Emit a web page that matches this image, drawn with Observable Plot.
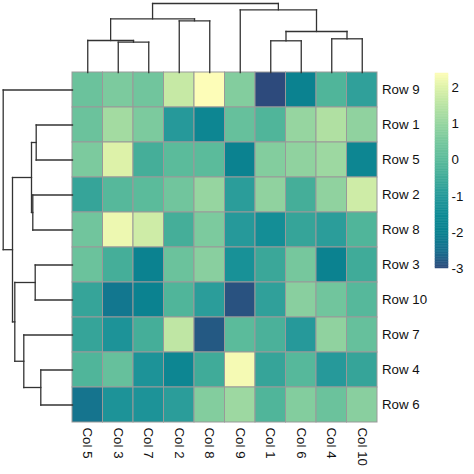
<!DOCTYPE html>
<html>
<head>
<meta charset="utf-8">
<script src="https://cdn.jsdelivr.net/npm/d3@7"></script>
<script src="https://cdn.jsdelivr.net/npm/@observablehq/plot@0.6"></script>
<style>
  html, body { margin: 0; padding: 0; background: #fff; }
  #wrap { position: relative; width: 474px; height: 474px; font-family: "Liberation Sans", Arial, sans-serif; }
  #wrap svg { position: absolute; overflow: visible; }
</style>
</head>
<body>
<div id="wrap"></div>
<script>
// ---- data (display order, as clustered) ----
const colNames = ["Col 5","Col 3","Col 7","Col 2","Col 8","Col 9","Col 1","Col 6","Col 4","Col 10"];
const rowNames = ["Row 9","Row 1","Row 5","Row 2","Row 8","Row 3","Row 10","Row 7","Row 4","Row 6"];
const row9  = [ 0.3,  0.6,  0.4,  1.7,  2.4,  0.7, -3.0, -2.0, -0.2, -0.8];
const row1  = [ 0.3,  1.2,  0.6, -1.0, -1.8,  0.2, -0.2,  1.0,  1.4,  0.9];
const row5  = [ 0.6,  2.0, -0.4,  0.0,  0.0, -2.0,  0.7,  0.9,  1.1, -1.8];
const row2  = [-0.7, -0.1,  0.0,  0.4,  1.0, -0.9,  0.9, -0.4,  0.9,  1.8];
const row8  = [ 0.4,  2.2,  1.8, -0.4,  0.6, -1.0, -1.4, -0.7, -0.9, -0.2];
const row3  = [ 0.3, -0.4, -2.0,  0.3,  0.8, -1.3, -0.6,  0.5, -2.0, -0.5];
const row10 = [-0.7, -2.3, -2.0, -0.2, -0.9, -2.9, -0.8,  0.8,  0.4, -0.1];
const row7  = [-0.7, -1.2, -0.4,  1.6, -2.8,  0.0, -0.3, -1.0,  0.9,  0.2];
const row4  = [-0.2,  0.2, -1.2, -1.8, -0.5,  2.3, -0.7, -0.1, -1.0, -0.7];
const row6  = [-2.4, -1.2, -1.2, -0.9,  0.7,  1.1, -0.2,  0.7,  0.3,  0.8];
const rowValues = [row9, row1, row5, row2, row8, row3, row10, row7, row4, row6];

// hclust-like merges: [left, right, height]; numbers refer to earlier merges
const colMerges = [
  ["Col 3", "Col 7", 3.03],
  ["Col 5", 0, 3.20],
  ["Col 2", "Col 8", 5.17],
  [1, 2, 5.37],
  ["Col 1", "Col 6", 3.17],
  ["Col 4", "Col 10", 3.37],
  [4, 5, 4.10],
  ["Col 9", 6, 6.27],
  [3, 7, 6.90]
];
const rowMerges = [
  ["Row 1", "Row 5", 3.63],
  ["Row 2", "Row 8", 3.97],
  [0, 1, 4.10],
  ["Row 3", "Row 10", 3.73],
  ["Row 4", "Row 6", 3.17],
  ["Row 7", 4, 4.87],
  [3, 5, 5.77],
  [2, 6, 6.00],
  ["Row 9", 7, 6.93]
];
const legendTicks = [-3, -2, -1, 0, 1, 2];

// ---- palette ----
const paletteStops = [-3, -2.5, -2, -1.5, -1, -0.5, 0, 0.5, 1, 1.5, 2, 2.4];
const paletteColors = ["#2D4A7C","#17708E","#0B8290","#0F8B95","#26999A","#40AB99",
                       "#5BBB9B","#76C79D","#96D5A0","#B7E3A3","#DDF2A9","#FDFDB8"];

// ---- build tables ----
const cells = [];
rowValues.forEach((vals, r) => vals.forEach((v, c) => cells.push({r, c, v})));
const ext = d3.extent(cells, d => d.v);

function treeSegments(merges, order) {
  const pos = new Map(order.map((d, i) => [d, i + 0.5]));
  const nodes = [];
  const get = ref => typeof ref === "number" ? nodes[ref] : {p: pos.get(ref), h: 0};
  const segs = [];
  for (const [a, b, h] of merges) {
    const A = get(a), B = get(b);
    segs.push({p1: A.p, h1: A.h, p2: A.p, h2: h});
    segs.push({p1: B.p, h1: B.h, p2: B.p, h2: h});
    segs.push({p1: A.p, h1: h, p2: B.p, h2: h});
    nodes.push({p: (A.p + B.p) / 2, h});
  }
  return segs;
}
const colSegs = treeSegments(colMerges, colNames);
const rowSegs = treeSegments(rowMerges, rowNames);

// layout
const W = 474, H = 474;
const mL = 72, mR = 97, mT = 72, mB = 52;
const pxPerX = (W - mL - mR) / colNames.length;
const pxPerY = (H - mT - mB) / rowNames.length;
const treePx = 10; // px per unit of merge height
const colorScale = {type: "linear", domain: paletteStops, range: paletteColors};

const fontFamily = "Liberation Sans, Arial, sans-serif";
const fs = 13.3;

const main = Plot.plot({
  width: W, height: H,
  marginLeft: mL, marginRight: mR, marginTop: mT, marginBottom: mB,
  x: {domain: [0, colNames.length], axis: null},
  y: {domain: [0, rowNames.length], reverse: true, axis: null},
  color: colorScale,
  style: {fontFamily, fontSize: fs + "px", background: "white", overflow: "visible"},
  marks: [
    Plot.rect(cells, {
      x1: d => d.c, x2: d => d.c + 1, y1: d => d.r, y2: d => d.r + 1,
      fill: d => d.v, stroke: "#999999", strokeWidth: 1
    }),
    Plot.link(colSegs, {
      x1: "p1", x2: "p2",
      y1: d => -d.h1 * treePx / pxPerY, y2: d => -d.h2 * treePx / pxPerY,
      stroke: "#333", strokeWidth: 1.3, strokeLinecap: "square"
    }),
    Plot.link(rowSegs, {
      y1: "p1", y2: "p2",
      x1: d => -d.h1 * treePx / pxPerX, x2: d => -d.h2 * treePx / pxPerX,
      stroke: "#333", strokeWidth: 1.3, strokeLinecap: "square"
    }),
    Plot.text(rowNames, {
      x: colNames.length, y: (d, i) => i + 0.5, text: d => d,
      textAnchor: "start", dx: 4.5, fill: "#111", fontSize: fs
    }),
    Plot.text(colNames, {
      x: (d, i) => i + 0.5, y: rowNames.length, text: d => d,
      rotate: 90, textAnchor: "start", dy: 5, fill: "#111", fontSize: fs
    })
  ]
});
main.style.left = "0px"; main.style.top = "0px";
document.getElementById("wrap").appendChild(main);

// ---- legend (colour bar) ----
const nSlices = 120;
const slices = d3.range(nSlices).map(i => {
  const a = ext[0] + (ext[1] - ext[0]) * i / nSlices;
  const b = ext[0] + (ext[1] - ext[0]) * (i + 1) / nSlices;
  return {a, b, m: (a + b) / 2};
});
const legend = Plot.plot({
  width: 40, height: 225,
  marginLeft: 0, marginRight: 27, marginTop: 13, marginBottom: 17,
  x: {domain: [0, 1], axis: null},
  y: {domain: ext, axis: null},
  color: colorScale,
  style: {fontFamily, fontSize: fs + "px", overflow: "visible"},
  marks: [
    Plot.rect(slices, {x1: 0, x2: 1, y1: "a", y2: "b", fill: "m", stroke: "m", strokeWidth: 0.5}),
    Plot.axisY(legendTicks, {anchor: "right", tickSize: 0, tickPadding: 3, fontSize: fs, fill: "#111", tickFormat: d => String(d)})
  ]
});
legend.style.left = "435px"; legend.style.top = "60px";
document.getElementById("wrap").appendChild(legend);
</script>
</body>
</html>
